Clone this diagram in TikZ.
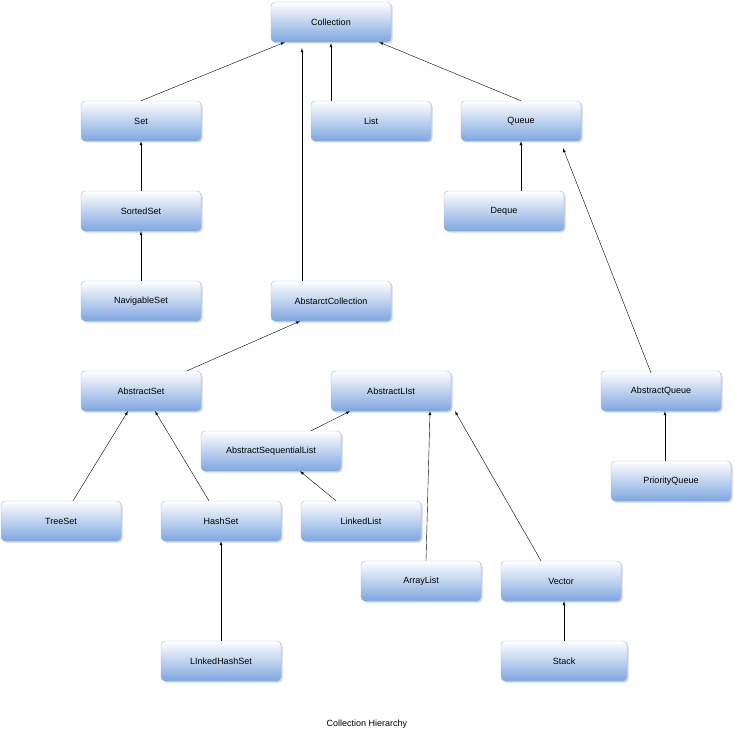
\documentclass[tikz,border=0pt]{standalone}
\usepackage{fontspec}
\setmainfont{Liberation Sans}
\usetikzlibrary{arrows, positioning, shadows}
\definecolor{boxblue}{RGB}{126, 166, 224}
\definecolor{boxline}{RGB}{110, 140, 190}

\begin{document}
\begin{tikzpicture}[
    x=1pt, y=-1pt,
    cls/.style={rectangle, rounded corners=4pt, minimum width=120pt, minimum height=40pt, text centered,
        font=\fontsize{9}{11}\selectfont, draw=boxline!60, top color=white, bottom color=boxblue,
        drop shadow={shadow xshift=1.5pt, shadow yshift=-1.5pt, opacity=0.35}},
    arrow/.style={->, >=latex, draw=black}
]
\useasboundingbox (0,0) rectangle (735,738);

% Interfaces
\node (coll) [cls] at (331,22) {Collection};
\node (set) [cls] at (141,121) {Set};
\node (list) [cls] at (371,121) {List};
\node (queue) [cls] at (521,121) {Queue};
\node (sorted) [cls] at (141,211) {SortedSet};
\node (deque) [cls] at (504,211) {Deque};
\node (navset) [cls] at (141,301) {NavigableSet};

% Abstract classes
\node (abscoll) [cls] at (331,301) {AbstarctCollection};
\node (absset) [cls] at (141,391) {AbstractSet};
\node (abslist) [cls] at (391,391) {AbstractLIst};
\node (absqueue) [cls] at (661,391) {AbstractQueue};
\node (absseq) [cls, minimum width=140pt] at (271,451) {AbstractSequentialList};

% Concrete classes
\node (prioq) [cls] at (671,481) {PriorityQueue};
\node (treeset) [cls] at (61,521) {TreeSet};
\node (hashset) [cls] at (221,521) {HashSet};
\node (linkedlist) [cls] at (361,521) {LinkedList};
\node (arraylist) [cls] at (421,581) {ArrayList};
\node (vector) [cls] at (561,581) {Vector};
\node (stack) [cls, minimum width=126pt] at (564,661) {Stack};
\node (lhashset) [cls] at (221,661) {LInkedHashSet};

\node (caption) [font=\fontsize{9}{11}\selectfont] at (367,724) {Collection Hierarchy};

% Connectors
\draw [arrow] (set.north) -- ([xshift=14pt]coll.south west);
\draw [arrow] ([xshift=-40pt]list.north) -- ([xshift=-40pt,yshift=-1pt]list.north |- coll.south);
\draw [arrow] (queue.north) -- ([xshift=-12pt]coll.south east);
\draw [arrow] (sorted) -- (set);
\draw [arrow] (navset) -- (sorted);
\draw [arrow] ([xshift=17pt]deque.north) -- ([xshift=17pt]deque.north |- queue.south);
\draw [arrow] ([xshift=-29pt]abscoll.north) -- ([xshift=-29pt,yshift=-6pt]abscoll.north |- coll.south);
\draw [arrow] ([xshift=-10pt,yshift=-2pt]absqueue.north) -- ([xshift=42pt,yshift=-7pt]queue.south);
\draw [arrow] ([xshift=-6pt]prioq.north) -- ([xshift=-6pt]prioq.north |- absqueue.south);
\draw [arrow] ([xshift=46pt]absset.north) -- ([xshift=-31pt]abscoll.south);
\draw [arrow] ([xshift=12pt]treeset.north) -- ([xshift=-13pt]absset.south);
\draw [arrow] ([xshift=-12pt]hashset.north) -- ([xshift=14pt]absset.south);
\draw [arrow] (lhashset) -- (hashset);
\draw [arrow] ([xshift=40pt]absseq.north) -- ([xshift=-41pt]abslist.south);
\draw [arrow] ([xshift=-25pt]linkedlist.north) -- ([xshift=29pt]absseq.south);
\draw [arrow] ([xshift=5pt]arraylist.north) -- ([xshift=39pt]abslist.south);
\draw [arrow] ([xshift=-20pt]vector.north) -- ([xshift=64pt]abslist.south);
\draw [arrow] (stack) -- (stack |- vector.south);

\end{tikzpicture}
\end{document}
